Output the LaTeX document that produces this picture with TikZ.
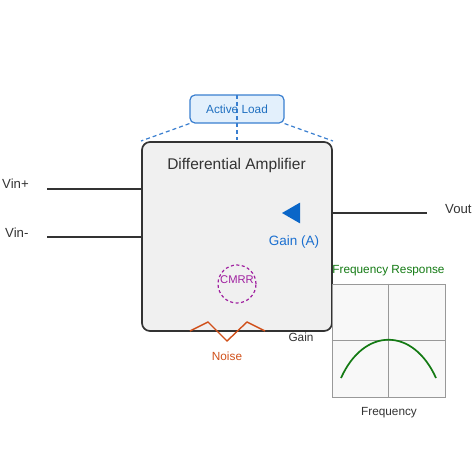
\documentclass[tikz,border=0pt]{standalone}
\usepackage{fontspec}
\setmainfont{Liberation Sans}
\usetikzlibrary{shapes.geometric}
\definecolor{boxfill}{HTML}{F0F0F0}
\definecolor{boxline}{HTML}{333333}
\definecolor{loadfill}{HTML}{E3F0FC}
\definecolor{loadline}{HTML}{3A7FD0}
\definecolor{loadtext}{HTML}{2070C0}
\definecolor{gainblue}{HTML}{1A6FD0}
\definecolor{tri}{HTML}{0A66C8}
\definecolor{cmrr}{HTML}{A020A0}
\definecolor{noise}{HTML}{D0501A}
\definecolor{resp}{HTML}{137A13}
\definecolor{gridc}{HTML}{999999}
\definecolor{plotfill}{HTML}{F8F8F8}
\tikzset{
  wire/.style={draw=boxline, line width=1.7pt},
  dsh/.style={draw=loadline, dashed, dash pattern=on 4pt off 3pt, line width=1.2pt},
}
\begin{document}
\begin{tikzpicture}[x=1pt,y=-1pt]
\useasboundingbox (0,0) rectangle (474,474);
% main box
\node[draw=boxline, fill=boxfill, line width=1.7pt, rounded corners=8pt, minimum width=190pt, minimum height=189pt, inner sep=0pt] (amp) at (237,236.5) {};
\node[font=\fontsize{15.5}{17}\selectfont, text=boxline, inner sep=0pt] (title) at (236.5,165) {Differential Amplifier};
% active load
\node[draw=loadline, fill=loadfill, line width=1.2pt, rounded corners=5pt, minimum width=94pt, minimum height=28pt, inner sep=0pt] (load) at (237,109) {};
\coordinate (ltop) at (237,95);
\coordinate (lbot) at (237,140);
\coordinate (al) at (141,141);
\coordinate (ar) at (333,141);
\draw[dsh] (load.south west) -- (al);
\draw[dsh] (load.south east) -- (ar);
\draw[dsh] (ltop) -- (lbot);
\node[font=\fontsize{11.8}{13}\selectfont, text=loadtext, inner sep=0pt] (loadt) at (237,109.5) {Active Load};
% inputs
\node[font=\fontsize{13.2}{15}\selectfont, text=boxline, inner sep=0pt, anchor=west] (vinp) at (2,184) {Vin+};
\node[font=\fontsize{13.2}{15}\selectfont, text=boxline, inner sep=0pt, anchor=west] (vinm) at (5,233) {Vin-};
\coordinate (ip) at (47,189);
\coordinate (im) at (47,237);
\draw[wire] (ip) -- (ip -| amp.west);
\draw[wire] (im) -- (im -| amp.west);
% output
\coordinate (op) at (427,213);
\draw[wire] (op -| amp.east) -- (op);
\node[font=\fontsize{13.2}{15}\selectfont, text=boxline, inner sep=0pt, anchor=west] (vout) at (445,209) {Vout};
% gain triangle
\node[isosceles triangle, shape border rotate=180, fill=tri, minimum width=18pt, minimum height=18pt, inner sep=0pt, isosceles triangle apex angle=60] (trin) at (294,213) {};
\node[font=\fontsize{13.5}{15}\selectfont, text=gainblue, inner sep=0pt] (gain) at (294,242) {Gain (A)};
% CMRR
\node[circle, draw=cmrr, dashed, dash pattern=on 3pt off 2.5pt, line width=1.2pt, minimum size=38pt, inner sep=0pt] (cm) at (237,284) {};
\node[font=\fontsize{11.2}{12}\selectfont, text=cmrr, inner sep=0pt] (cmt) at (237,280) {CMRR};
% noise
\coordinate (n0) at (190,331);
\coordinate (n1) at (208,322);
\coordinate (n2) at (227,341);
\coordinate (n3) at (247,322);
\coordinate (n4) at (265,331);
\draw[noise, line width=1.4pt] (n0) -- (n1) -- (n2) -- (n3) -- (n4);
\node[font=\fontsize{11.8}{13}\selectfont, text=noise, inner sep=0pt] (noiset) at (227,356) {Noise};
% frequency response
\node[draw=gridc, fill=plotfill, line width=1pt, minimum width=113pt, minimum height=113pt, inner sep=0pt] (plot) at (388.5,340.5) {};
\draw[gridc, line width=1pt] (plot.north) -- (plot.south);
\draw[gridc, line width=1pt] (plot.west) -- (plot.east);
\coordinate (c0) at (341,378);
\coordinate (c1) at (436,378);
\draw[resp, line width=1.7pt] (c0) .. controls (364,327) and (413,327) .. (c1);
\node[font=\fontsize{11.8}{13}\selectfont, text=resp, inner sep=0pt] (frt) at (388.5,271) {Frequency Response};
\node[font=\fontsize{11.8}{13}\selectfont, text=boxline, inner sep=0pt] (fx) at (389,413) {Frequency};
\node[font=\fontsize{11.8}{13}\selectfont, text=boxline, inner sep=0pt] (fy) at (301,337) {Gain};
\end{tikzpicture}
\end{document}
